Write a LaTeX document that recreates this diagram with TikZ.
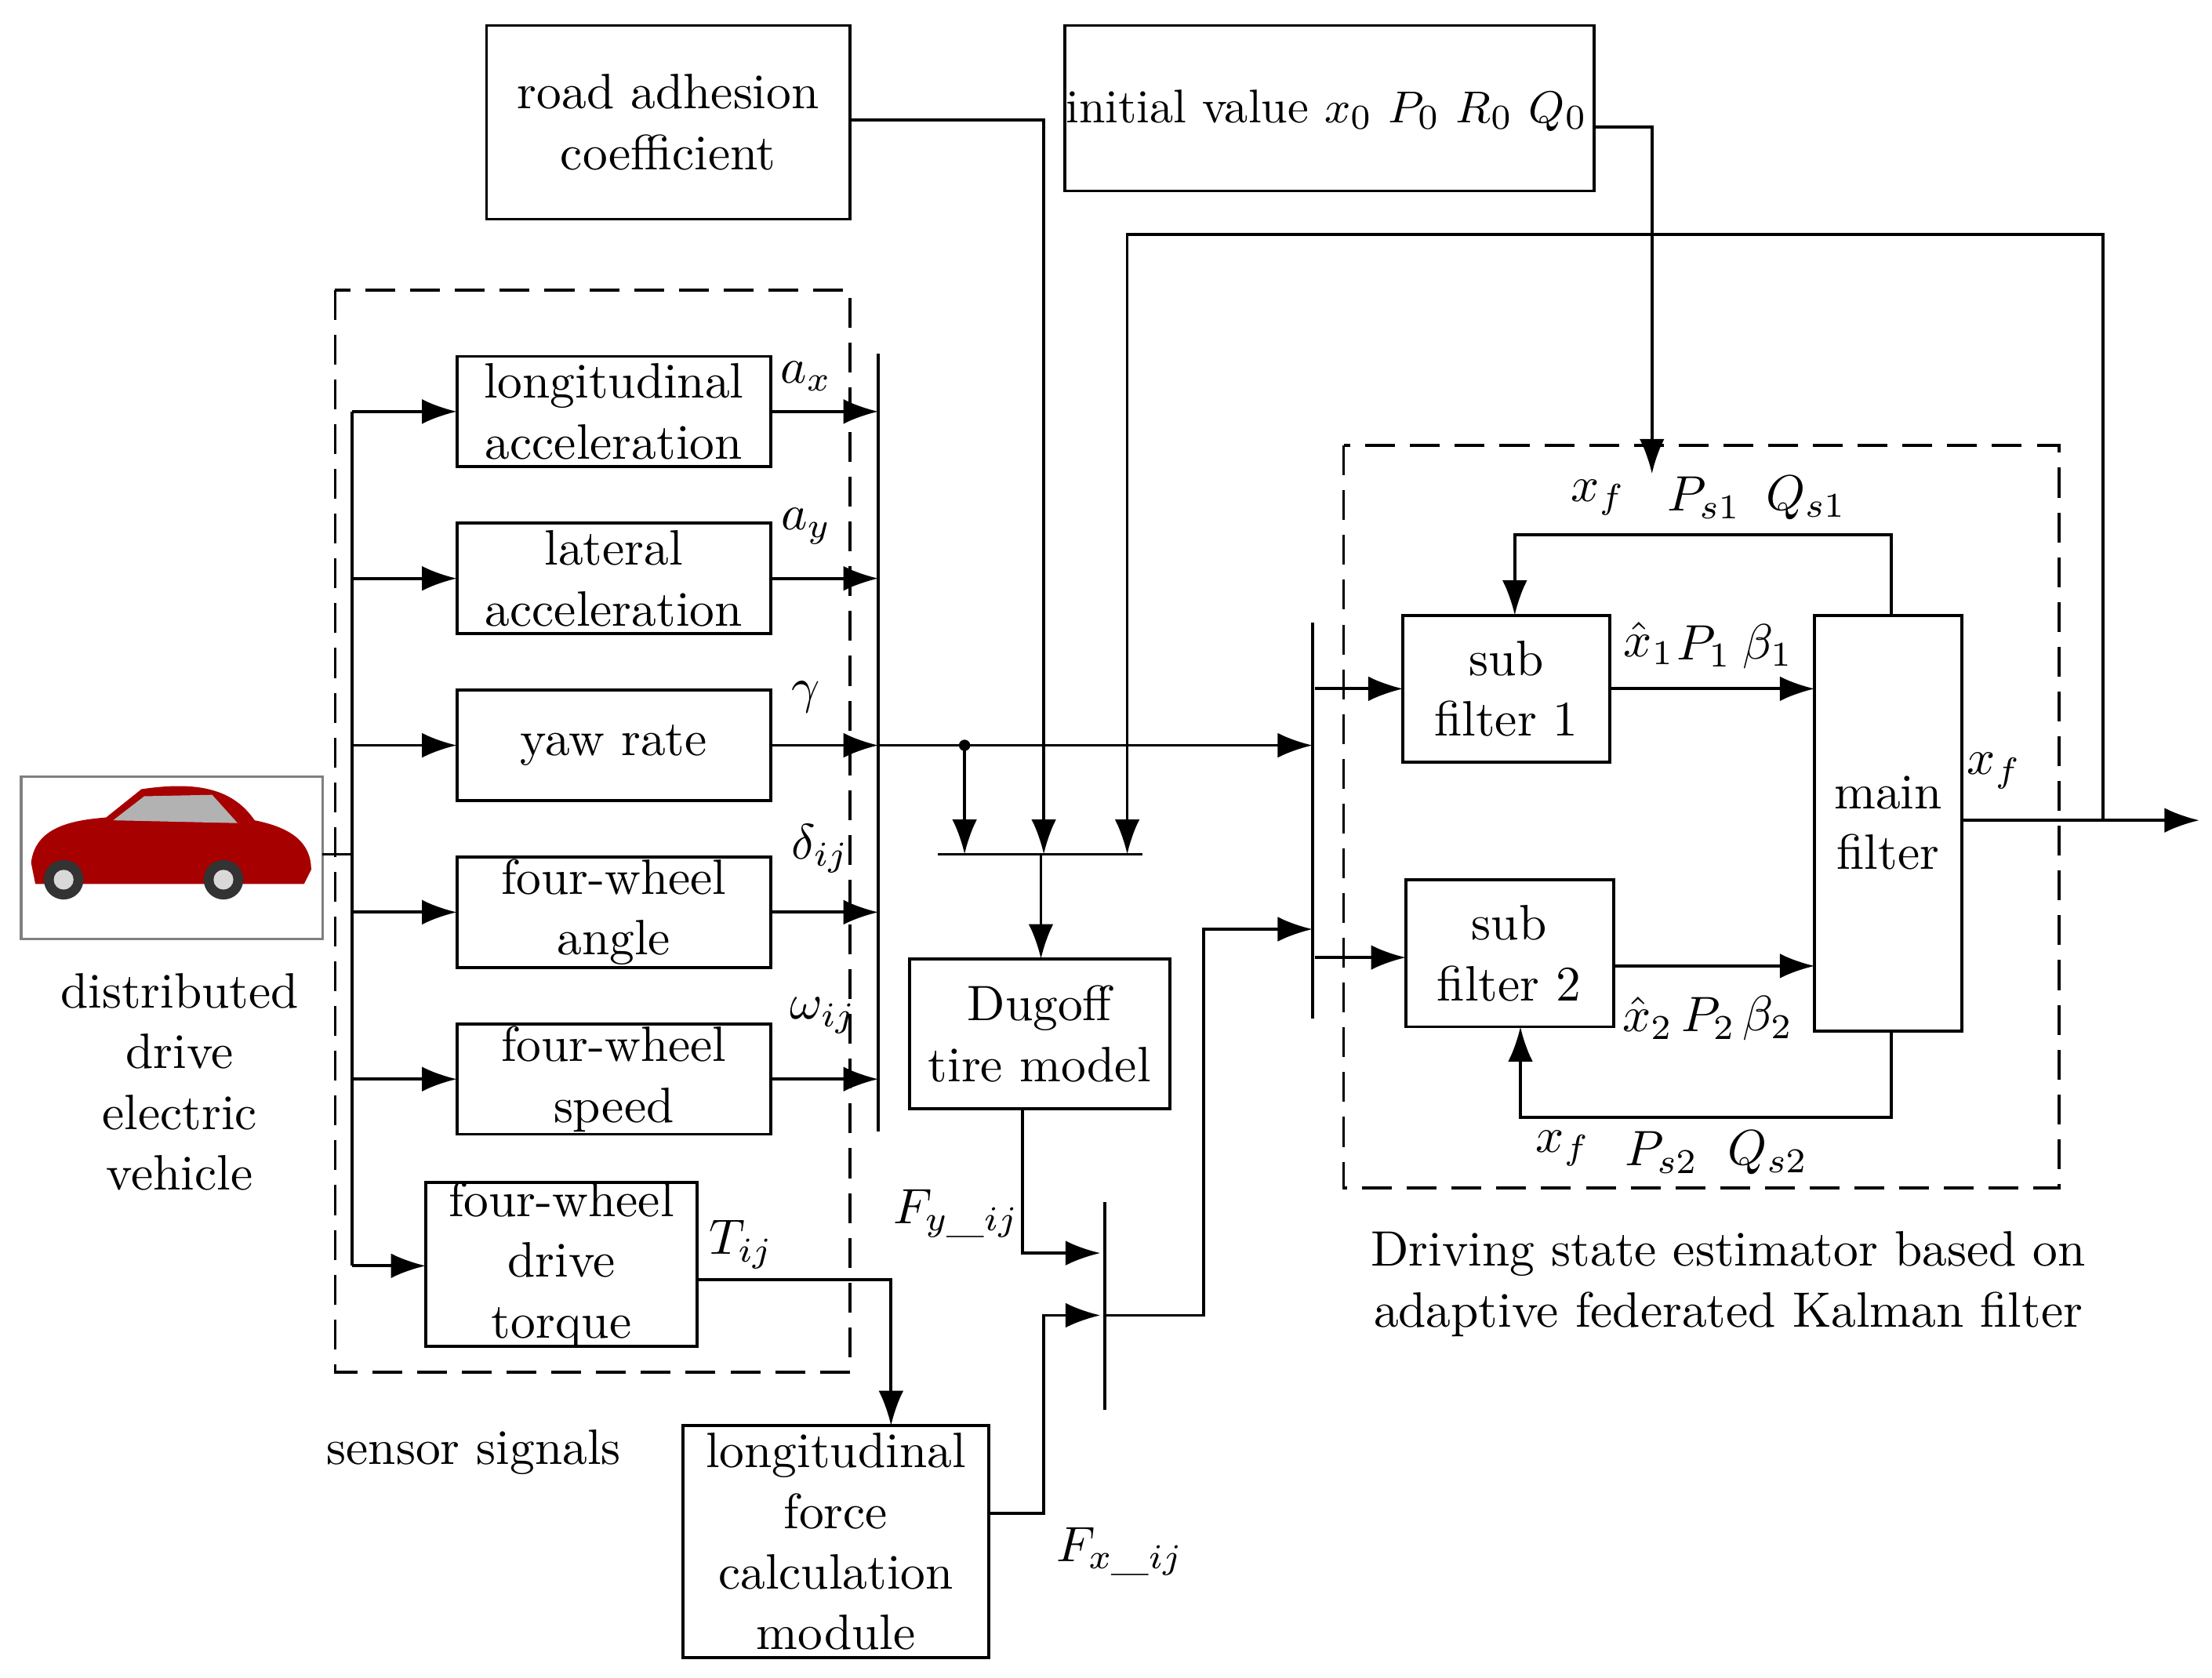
\documentclass[tikz,border=0pt]{standalone}
\usetikzlibrary{arrows.meta}
\begin{document}
\begin{tikzpicture}[x=0.01cm,y=-0.01cm,
  arr/.style={line width=0.6pt,-{Latex[length=7pt,width=5pt]}},
  ln/.style={line width=0.6pt},
  box/.style={draw,line width=0.6pt},
  lbl/.style={font=\fontsize{10}{12.2}\selectfont,align=center},
  dsh/.style={draw,line width=0.6pt,dash pattern=on 6pt off 3pt}]
\useasboundingbox (0,0) rectangle (1564,1186);
% top inputs
\draw[box] (344,18) rectangle (601,155);
\node[lbl] (road) at (472.5,86.5) {road adhesion\\coefficient};
\draw[box] (753,18) rectangle (1127,135);
\node[lbl,font=\fontsize{9.5}{11}\selectfont] (init) at (938,78) {initial value $x_0$ $P_0$ $R_0$ $Q_0$};
% sensor group
\draw[dsh] (237,205) rectangle (601,970);
\node[lbl] at (335,1027) {sensor signals};
\foreach \n/\y/\t in {lon/291/{longitudinal\\acceleration},lat/409/{lateral\\acceleration},yaw/527/{yaw rate},ang/645/{four-wheel\\angle},spd/763/{four-wheel\\speed}}{
  \draw[box] (323,\y-39) rectangle (545,\y+39);
  \node[lbl] (\n) at (434,\y) {\t};
  \draw[arr] (249,\y) -- (323,\y);
  \draw[arr] (545,\y) -- (621,\y);
}
\draw[box] (301,836) rectangle (493,952);
\node[lbl] (trq) at (397,894) {four-wheel\\drive\\torque};
\draw[arr] (249,895) -- (301,895);
% car
\draw[line width=0.5pt,gray] (15,549) rectangle (228,664);
\fill[red!65!black] (22,610) .. controls (25,585) and (50,580) .. (75,578) -- (100,558) .. controls (140,552) and (165,558) .. (180,580) .. controls (205,585) and (220,595) .. (220,615) -- (215,625) -- (25,625) -- cycle;
\fill[gray!60] (80,580) -- (102,563) -- (150,562) -- (168,582) -- cycle;
\fill[black!80] (45,622) circle (14) (158,622) circle (14);
\fill[gray!30] (45,622) circle (7) (158,622) circle (7);
\node[lbl] at (127,765) {distributed\\drive\\electric\\vehicle};
\draw[ln] (228,604) -- (249,604);
\draw[ln] (249,291) -- (249,895);
\draw[ln] (621,250) -- (621,800);
\node[lbl] at (570,266) {$a_x$};
\node[lbl] at (570,372) {$a_y$};
\node[lbl] at (570,493) {$\gamma$};
\node[lbl] at (580,600) {$\delta_{ij}$};
\node[lbl] at (582,718) {$\omega_{ij}$};
\node[lbl] at (524,880) {$T_{ij}$};
% torque to longitudinal force
\draw[box] (483,1008) rectangle (699,1172);
\node[lbl] (lfc) at (591,1090) {longitudinal\\force\\calculation\\module};
\draw[arr] (493,905) -- (630,905) -- (630,1008);
% Dugoff
\coordinate (dot) at (682,527);
\draw[arr] (621,527) -- (928,527);
\fill (dot) circle (4);
\draw[arr] (dot) -- (682,604);
\draw[arr] (601,85) -- (738,85) -- (738,604);
\draw[arr] (1487,580) -- (1487,166) -- (797,166) -- (797,604);
\draw[ln] (663,604) -- (808,604);
\draw[box] (643,678) rectangle (827,784);
\node[lbl] (dug) at (735,731) {Dugoff\\tire model};
\draw[arr] (736,604) -- (736,678);
\draw[arr] (723,784) -- (723,886) -- (778,886);
\draw[arr] (699,1070) -- (738,1070) -- (738,930) -- (778,930);
\draw[ln] (781,850) -- (781,997);
\draw[arr] (781,930) -- (851,930) -- (851,657) -- (928,657);
\node[lbl] at (676,858) {$F_{y\_ij}$};
\node[lbl] at (792,1097) {$F_{x\_ij}$};
% estimator
\draw[dsh] (950,315) rectangle (1456,840);
\node[lbl] at (1222,908) {Driving state estimator based on\\adaptive federated Kalman filter};
\draw[ln] (928,440) -- (928,720);
\draw[box] (992,435) rectangle (1138,539);
\node[lbl] (sf1) at (1065,487) {sub\\filter 1};
\draw[box] (994,622) rectangle (1141,726);
\node[lbl] (sf2) at (1067,674) {sub\\filter 2};
\draw[box] (1283,435) rectangle (1387,729);
\node[lbl] (mf) at (1335,582) {main\\filter};
\draw[arr] (930,487) -- (992,487);
\draw[arr] (930,677) -- (994,677);
\draw[arr] (1138,487) -- (1283,487);
\draw[arr] (1141,683) -- (1283,683);
\draw[arr] (1337,435) -- (1337,378) -- (1071,378) -- (1071,435);
\draw[arr] (1337,729) -- (1337,790) -- (1075,790) -- (1075,726);
\draw[arr] (1387,580) -- (1555,580);
\draw[arr] (1127,90) -- (1168,90) -- (1168,335);
\node[lbl] at (1130,352) {$x_f$};
\node[lbl] at (1205,352) {$P_{s1}$};
\node[lbl] at (1277,352) {$Q_{s1}$};
\node[lbl] at (1166,455) {$\hat{x}_1$};
\node[lbl] at (1205,457) {$P_1$};
\node[lbl] at (1250,457) {$\beta_1$};
\node[lbl] at (1410,545) {$x_f$};
\node[lbl] at (1165,720) {$\hat{x}_2$};
\node[lbl] at (1208,720) {$P_2$};
\node[lbl] at (1250,720) {$\beta_2$};
\node[lbl] at (1105,812) {$x_f$};
\node[lbl] at (1175,815) {$P_{s2}$};
\node[lbl] at (1250,815) {$Q_{s2}$};
\end{tikzpicture}
\end{document}
